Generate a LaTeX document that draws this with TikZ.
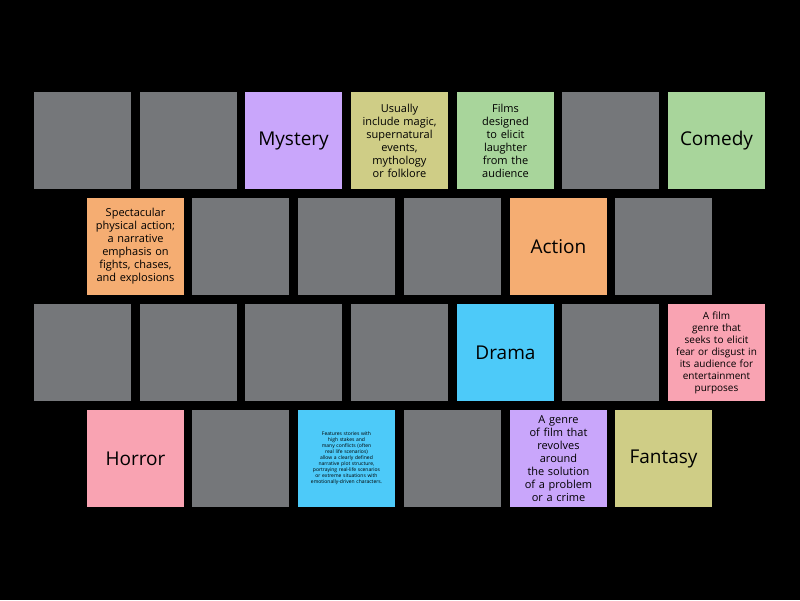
\documentclass[tikz,border=0pt]{standalone}
\usepackage{fontspec}
\setmainfont{Open Sans}
\definecolor{tgray}{HTML}{75777A}
\definecolor{tpurple}{HTML}{C9A6FB}
\definecolor{tolive}{HTML}{CFCD86}
\definecolor{tgreen}{HTML}{A8D59B}
\definecolor{torange}{HTML}{F5AD72}
\definecolor{tblue}{HTML}{4DCAF9}
\definecolor{tpink}{HTML}{F9A3B2}
\begin{document}
\begin{tikzpicture}[x=1pt,y=-1pt,
 tile/.style={anchor=north west,minimum width=97pt,minimum height=97pt,inner sep=2pt,outer sep=0pt,align=center,font=\fontsize{11}{13}\selectfont,text width=80pt},
 big/.style={font=\fontsize{19}{22}\selectfont},
 small/.style={font=\fontsize{5}{6}\selectfont,text width=92pt},
 mid/.style={font=\fontsize{10}{12}\selectfont,text width=88pt}]
\fill[black] (0,0) rectangle (800,600);
\useasboundingbox (0,0) rectangle (800,600);
% row 1
\node[tile,fill=tgray] (a1) at (34,92) {};
\node[tile,fill=tgray] (a2) at (140,92) {};
\node[tile,fill=tpurple,big] (a3) at (245,92) {Mystery};
\node[tile,fill=tolive] (a4) at (351,92) {Usually\\include magic,\\supernatural\\events,\\mythology\\or folklore};
\node[tile,fill=tgreen] (a5) at (457,92) {Films\\designed\\to elicit\\laughter\\from the\\audience};
\node[tile,fill=tgray] (a6) at (562,92) {};
\node[tile,fill=tgreen,big] (a7) at (668,92) {Comedy};
% row 2
\node[tile,fill=torange] (b1) at (87,198) {Spectacular\\physical action;\\a narrative\\emphasis on\\fights, chases,\\and explosions};
\node[tile,fill=tgray] (b2) at (192,198) {};
\node[tile,fill=tgray] (b3) at (298,198) {};
\node[tile,fill=tgray] (b4) at (404,198) {};
\node[tile,fill=torange,big] (b5) at (510,198) {Action};
\node[tile,fill=tgray] (b6) at (615,198) {};
% row 3
\node[tile,fill=tgray] (c1) at (34,304) {};
\node[tile,fill=tgray] (c2) at (140,304) {};
\node[tile,fill=tgray] (c3) at (245,304) {};
\node[tile,fill=tgray] (c4) at (351,304) {};
\node[tile,fill=tblue,big] (c5) at (457,304) {Drama};
\node[tile,fill=tgray] (c6) at (562,304) {};
\node[tile,fill=tpink,mid] (c7) at (668,304) {A film\\genre that\\seeks to elicit\\fear or disgust in\\its audience for\\entertainment\\purposes};
% row 4
\node[tile,fill=tpink,big] (d1) at (87,410) {Horror};
\node[tile,fill=tgray] (d2) at (192,410) {};
\node[tile,fill=tblue,small] (d3) at (298,410) {Features stories with\\high stakes and\\many conflicts (often\\real life scenarios)\\allow a clearly defined\\narrative plot structure,\\portraying real-life scenarios\\or extreme situations with\\emotionally-driven characters.};
\node[tile,fill=tgray] (d4) at (404,410) {};
\node[tile,fill=tpurple] (d5) at (510,410) {A genre\\of film that\\revolves around\\the solution\\of a problem\\or a crime};
\node[tile,fill=tolive,big] (d6) at (615,410) {Fantasy};
\end{tikzpicture}
\end{document}
